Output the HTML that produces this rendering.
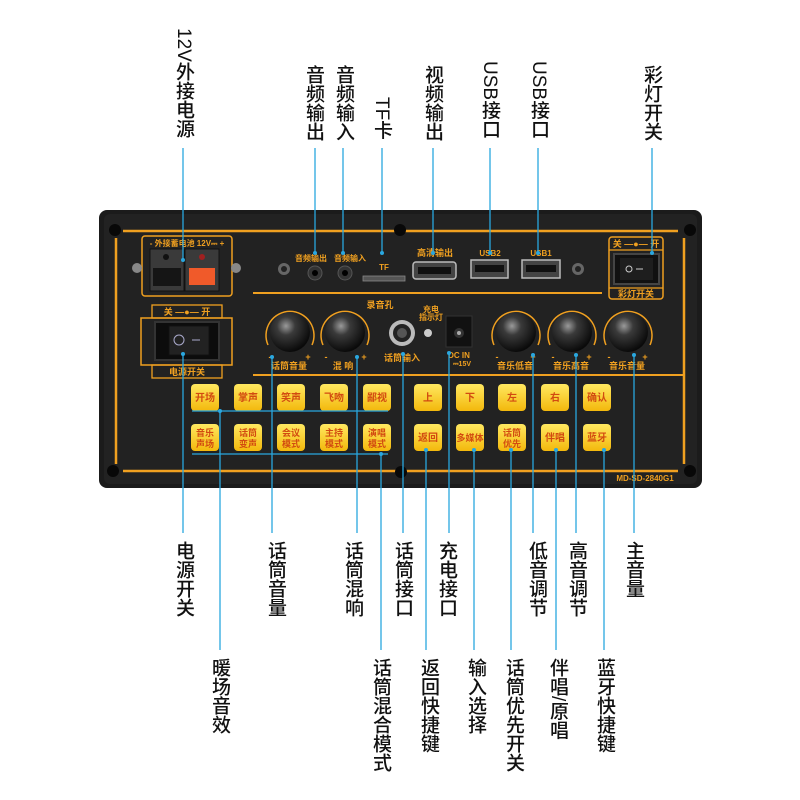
<!DOCTYPE html>
<html><head><meta charset="utf-8"><style>
body{margin:0;background:#fff;width:800px;height:800px;position:relative;overflow:hidden;font-family:"Liberation Sans","Noto Sans CJK SC",sans-serif}
.v{position:absolute;writing-mode:vertical-rl;text-orientation:mixed;font-size:19px;line-height:20px;color:#111;width:20px;font-weight:500}
svg{position:absolute;left:0;top:0}
</style></head><body>
<svg width="800" height="800" viewBox="0 0 800 800" font-family="Liberation Sans, Noto Sans CJK SC, sans-serif">
<defs>
<radialGradient id="kn" cx="40%" cy="35%" r="65%"><stop offset="0" stop-color="#9a9a9a"/><stop offset="0.35" stop-color="#3a3a3a"/><stop offset="1" stop-color="#0a0a0a"/></radialGradient>
<linearGradient id="bt" x1="0" y1="0" x2="0" y2="1"><stop offset="0" stop-color="#ffe860"/><stop offset="1" stop-color="#f3b80c"/></linearGradient>
</defs>
<!-- panel -->
<rect x="99" y="210" width="603" height="278" rx="8" fill="#1b1b1b"/>
<rect x="104" y="214" width="593" height="270" rx="6" fill="#222"/>
<g stroke="#f0a020" stroke-width="2.5" fill="none">
<line x1="123" y1="231" x2="678" y2="231"/>
<line x1="123" y1="471" x2="678" y2="471"/>
<line x1="116" y1="238" x2="116" y2="464"/>
<line x1="684" y1="238" x2="684" y2="464"/>
<line x1="253" y1="293" x2="602" y2="293" stroke-width="2"/>
<line x1="253" y1="375" x2="685" y2="375" stroke-width="2"/>
<rect x="142" y="236" width="90" height="60" rx="3" stroke-width="1.5"/>
<rect x="609" y="237" width="54" height="62" rx="3" stroke-width="1.5"/>
<line x1="609" y1="250" x2="663" y2="250" stroke-width="1.2"/>
<line x1="609" y1="288" x2="663" y2="288" stroke-width="1.2"/>
<rect x="152" y="305" width="70" height="13" stroke-width="1.3"/>
<rect x="141" y="318" width="91" height="47" stroke-width="1.5"/>
<rect x="152" y="365" width="70" height="13" stroke-width="1.3"/>
</g>
<g fill="#080808">
<circle cx="115" cy="230" r="6"/><circle cx="690" cy="230" r="6"/><circle cx="113" cy="471" r="6"/><circle cx="690" cy="471" r="6"/>
<circle cx="400" cy="230" r="6"/><circle cx="401" cy="472" r="6"/>
</g>
<!-- 12V terminal -->
<text x="187" y="246" font-size="8" font-weight="bold" fill="#f0a020" text-anchor="middle">- 外接蓄电池 12V⎓ +</text>
<rect x="150" y="249" width="34" height="42" fill="#3a3a3a" stroke="#111"/>
<rect x="185" y="249" width="34" height="42" fill="#3a3a3a" stroke="#111"/>
<rect x="153" y="268" width="28" height="18" fill="#151515"/>
<rect x="189" y="268" width="26" height="17" fill="#f05a2a"/>
<circle cx="166" cy="257" r="3" fill="#111"/><circle cx="202" cy="257" r="3" fill="#a02020"/>
<circle cx="137" cy="268" r="5" fill="#888"/><circle cx="236" cy="268" r="5" fill="#888"/>
<!-- top jacks -->
<circle cx="284" cy="269" r="6" fill="#666"/><circle cx="284" cy="269" r="3" fill="#222"/>
<text x="311" y="261" font-size="8" font-weight="bold" fill="#f0a020" text-anchor="middle">音频输出</text>
<text x="350" y="261" font-size="8" font-weight="bold" fill="#f0a020" text-anchor="middle">音频输入</text>
<circle cx="315" cy="273" r="7" fill="#333" stroke="#555"/><circle cx="315" cy="273" r="3" fill="#000"/>
<circle cx="345" cy="273" r="7" fill="#333" stroke="#555"/><circle cx="345" cy="273" r="3" fill="#000"/>
<text x="384" y="270" font-size="8" font-weight="bold" fill="#f0a020" text-anchor="middle">TF</text>
<rect x="363" y="276" width="42" height="5" fill="#555" stroke="#888" stroke-width="0.8"/>
<text x="435" y="256" font-size="9" font-weight="bold" fill="#f0a020" text-anchor="middle">高清输出</text>
<rect x="413" y="262" width="43" height="17" rx="3" fill="#444" stroke="#bbb" stroke-width="1.5"/>
<rect x="418" y="267" width="33" height="7" fill="#111"/>
<text x="490" y="256" font-size="8" font-weight="bold" fill="#f0a020" text-anchor="middle">USB2</text>
<text x="541" y="256" font-size="8" font-weight="bold" fill="#f0a020" text-anchor="middle">USB1</text>
<rect x="471" y="260" width="37" height="18" fill="#444" stroke="#bbb" stroke-width="1.5"/><rect x="475" y="265" width="29" height="7" fill="#111"/>
<rect x="522" y="260" width="38" height="18" fill="#444" stroke="#bbb" stroke-width="1.5"/><rect x="526" y="265" width="30" height="7" fill="#111"/>
<circle cx="578" cy="269" r="6" fill="#666"/><circle cx="578" cy="269" r="3" fill="#222"/>
<!-- 彩灯 -->
<text x="636" y="247" font-size="9" font-weight="bold" fill="#f0a020" text-anchor="middle">关 —●— 开</text>
<rect x="614" y="254" width="45" height="30" fill="#111" stroke="#444" stroke-width="2"/>
<rect x="620" y="258" width="33" height="22" fill="#1e1e1e"/>
<circle cx="629" cy="269" r="3" fill="none" stroke="#ccc"/><line x1="636" y1="269" x2="643" y2="269" stroke="#ccc"/>
<text x="636" y="297" font-size="9" font-weight="bold" fill="#f0a020" text-anchor="middle">彩灯开关</text>
<!-- power switch -->
<text x="187" y="315" font-size="9" font-weight="bold" fill="#f0a020" text-anchor="middle">关 —●— 开</text>
<rect x="155" y="322" width="64" height="38" fill="#0c0c0c" stroke="#333" stroke-width="2"/>
<rect x="169" y="326" width="40" height="29" fill="#222" stroke="#111"/>
<circle cx="179" cy="340" r="5" fill="none" stroke="#aac"/><line x1="192" y1="340" x2="200" y2="340" stroke="#aac"/>
<text x="187" y="375" font-size="9" font-weight="bold" fill="#f0a020" text-anchor="middle">电源开关</text>
<!-- knobs -->
<g fill="none" stroke="#f0a020" stroke-width="1.5">
<path d="M268 345 A24 24 0 1 1 312 345"/><path d="M323 345 A24 24 0 1 1 367 345"/>
<path d="M494 345 A24 24 0 1 1 538 345"/><path d="M550 345 A24 24 0 1 1 594 345"/><path d="M606 345 A24 24 0 1 1 650 345"/>
</g>
<circle cx="290" cy="332" r="20" fill="url(#kn)"/><circle cx="345" cy="332" r="20" fill="url(#kn)"/>
<circle cx="516" cy="332" r="20" fill="url(#kn)"/><circle cx="572" cy="332" r="20" fill="url(#kn)"/><circle cx="628" cy="332" r="20" fill="url(#kn)"/>
<g font-size="9" font-weight="bold" fill="#f0a020" text-anchor="middle">
<text x="289" y="369">话筒音量</text><text x="343" y="369">混  响</text>
<text x="515" y="369">音乐低音</text><text x="571" y="369">音乐高音</text><text x="627" y="369">音乐音量</text>
<text x="270" y="360">-</text><text x="308" y="360">+</text><text x="326" y="360">-</text><text x="364" y="360">+</text>
<text x="497" y="360">-</text><text x="533" y="360">+</text><text x="553" y="360">-</text><text x="589" y="360">+</text><text x="609" y="360">-</text><text x="645" y="360">+</text>
<text x="380" y="308">录音孔</text><text x="402" y="361">话筒输入</text>
<text x="431" y="312" font-size="8">充电</text><text x="431" y="320" font-size="8">指示灯</text>
<text x="459" y="358" font-size="8">DC IN</text><text x="462" y="366" font-size="7">⎓15V</text>
<text x="645" y="481" font-size="8">MD-SD-2840G1</text>
</g>
<circle cx="402" cy="333" r="13" fill="#bbb"/><circle cx="402" cy="333" r="9" fill="#222"/><circle cx="402" cy="333" r="5" fill="#555"/>
<circle cx="428" cy="333" r="4" fill="#ccc"/>
<rect x="446" y="316" width="26" height="31" fill="#111" stroke="#333"/><circle cx="459" cy="333" r="5" fill="#333"/><circle cx="459" cy="333" r="2" fill="#aaa"/>
<!-- buttons -->
<g font-size="10" fill="#d24a10" text-anchor="middle" font-weight="bold">
<g id="r1">
<rect x="191" y="384" width="28" height="27" rx="4" fill="url(#bt)"/><text x="205" y="401">开场</text>
<rect x="234" y="384" width="28" height="27" rx="4" fill="url(#bt)"/><text x="248" y="401">掌声</text>
<rect x="277" y="384" width="28" height="27" rx="4" fill="url(#bt)"/><text x="291" y="401">笑声</text>
<rect x="320" y="384" width="28" height="27" rx="4" fill="url(#bt)"/><text x="334" y="401">飞吻</text>
<rect x="363" y="384" width="28" height="27" rx="4" fill="url(#bt)"/><text x="377" y="401">鄙视</text>
<rect x="414" y="384" width="28" height="27" rx="4" fill="url(#bt)"/><text x="428" y="401">上</text>
<rect x="456" y="384" width="28" height="27" rx="4" fill="url(#bt)"/><text x="470" y="401">下</text>
<rect x="498" y="384" width="28" height="27" rx="4" fill="url(#bt)"/><text x="512" y="401">左</text>
<rect x="541" y="384" width="28" height="27" rx="4" fill="url(#bt)"/><text x="555" y="401">右</text>
<rect x="583" y="384" width="28" height="27" rx="4" fill="url(#bt)"/><text x="597" y="401">确认</text>
</g>
<rect x="191" y="424" width="28" height="27" rx="4" fill="url(#bt)"/><text x="205" y="436" font-size="9">音乐</text><text x="205" y="447" font-size="9">声场</text>
<rect x="234" y="424" width="28" height="27" rx="4" fill="url(#bt)"/><text x="248" y="436" font-size="9">话筒</text><text x="248" y="447" font-size="9">变声</text>
<rect x="277" y="424" width="28" height="27" rx="4" fill="url(#bt)"/><text x="291" y="436" font-size="9">会议</text><text x="291" y="447" font-size="9">模式</text>
<rect x="320" y="424" width="28" height="27" rx="4" fill="url(#bt)"/><text x="334" y="436" font-size="9">主持</text><text x="334" y="447" font-size="9">模式</text>
<rect x="363" y="424" width="28" height="27" rx="4" fill="url(#bt)"/><text x="377" y="436" font-size="9">演唱</text><text x="377" y="447" font-size="9">模式</text>
<rect x="414" y="424" width="28" height="27" rx="4" fill="url(#bt)"/><text x="428" y="441">返回</text>
<rect x="456" y="424" width="28" height="27" rx="4" fill="url(#bt)"/><text x="470" y="441" font-size="9">多媒体</text>
<rect x="498" y="424" width="28" height="27" rx="4" fill="url(#bt)"/><text x="512" y="436" font-size="9">话筒</text><text x="512" y="447" font-size="9">优先</text>
<rect x="541" y="424" width="28" height="27" rx="4" fill="url(#bt)"/><text x="555" y="441">伴唱</text>
<rect x="583" y="424" width="28" height="27" rx="4" fill="url(#bt)"/><text x="597" y="441">蓝牙</text>
</g>
<!-- blue leader lines -->
<g stroke="#2aa7df" stroke-width="1.3" fill="none">
<line x1="192" y1="411" x2="388" y2="411"/><line x1="192" y1="454" x2="388" y2="454"/>
<line x1="183" y1="148" x2="183" y2="260"/>
<line x1="315" y1="148" x2="315" y2="253"/><line x1="343" y1="148" x2="343" y2="253"/>
<line x1="382" y1="148" x2="382" y2="253"/><line x1="433" y1="148" x2="433" y2="253"/>
<line x1="490" y1="148" x2="490" y2="253"/><line x1="538" y1="148" x2="538" y2="253"/>
<line x1="652" y1="148" x2="652" y2="253"/>
<line x1="183" y1="354" x2="183" y2="533"/>
<line x1="220" y1="411" x2="220" y2="650"/>
<line x1="272" y1="357" x2="272" y2="533"/>
<line x1="357" y1="357" x2="357" y2="533"/>
<line x1="381" y1="454" x2="381" y2="650"/>
<line x1="403" y1="354" x2="403" y2="533"/>
<line x1="426" y1="450" x2="426" y2="650"/>
<line x1="449" y1="353" x2="449" y2="533"/>
<line x1="474" y1="450" x2="474" y2="650"/>
<line x1="511" y1="450" x2="511" y2="650"/>
<line x1="533" y1="355" x2="533" y2="533"/>
<line x1="556" y1="450" x2="556" y2="650"/>
<line x1="576" y1="355" x2="576" y2="533"/>
<line x1="604" y1="450" x2="604" y2="650"/>
<line x1="634" y1="355" x2="634" y2="533"/>
</g>
<g fill="#2aa7df">
<circle cx="183" cy="260" r="2"/><circle cx="315" cy="253" r="2"/><circle cx="343" cy="253" r="2"/><circle cx="382" cy="253" r="2"/><circle cx="433" cy="253" r="2"/><circle cx="490" cy="253" r="2"/><circle cx="538" cy="253" r="2"/><circle cx="652" cy="253" r="2"/>
<circle cx="183" cy="354" r="2"/><circle cx="220" cy="411" r="2"/><circle cx="272" cy="357" r="2"/><circle cx="357" cy="357" r="2"/><circle cx="381" cy="454" r="2"/><circle cx="403" cy="354" r="2"/><circle cx="426" cy="450" r="2"/><circle cx="449" cy="353" r="2"/><circle cx="474" cy="450" r="2"/><circle cx="511" cy="450" r="2"/><circle cx="533" cy="355" r="2"/><circle cx="556" cy="450" r="2"/><circle cx="576" cy="355" r="2"/><circle cx="604" cy="450" r="2"/><circle cx="634" cy="355" r="2"/>
</g>
</svg>
<!-- top labels -->
<div class="v" style="left:173px;top:28px">12V外接电源</div>
<div class="v" style="left:303px;top:65px">音频输出</div>
<div class="v" style="left:333px;top:65px">音频输入</div>
<div class="v" style="left:371px;top:97px">TF卡</div>
<div class="v" style="left:422px;top:65px">视频输出</div>
<div class="v" style="left:479px;top:61px">USB接口</div>
<div class="v" style="left:528px;top:61px">USB接口</div>
<div class="v" style="left:641px;top:65px">彩灯开关</div>
<!-- bottom labels -->
<div class="v" style="left:173px;top:541px">电源开关</div>
<div class="v" style="left:209px;top:658px">暖场音效</div>
<div class="v" style="left:265px;top:541px">话筒音量</div>
<div class="v" style="left:342px;top:541px">话筒混响</div>
<div class="v" style="left:370px;top:658px">话筒混合模式</div>
<div class="v" style="left:392px;top:541px">话筒接口</div>
<div class="v" style="left:418px;top:658px">返回快捷键</div>
<div class="v" style="left:436px;top:541px">充电接口</div>
<div class="v" style="left:465px;top:658px">输入选择</div>
<div class="v" style="left:503px;top:658px">话筒优先开关</div>
<div class="v" style="left:526px;top:541px">低音调节</div>
<div class="v" style="left:547px;top:658px">伴唱/原唱</div>
<div class="v" style="left:566px;top:541px">高音调节</div>
<div class="v" style="left:594px;top:658px">蓝牙快捷键</div>
<div class="v" style="left:623px;top:541px">主音量</div>
</body></html>
